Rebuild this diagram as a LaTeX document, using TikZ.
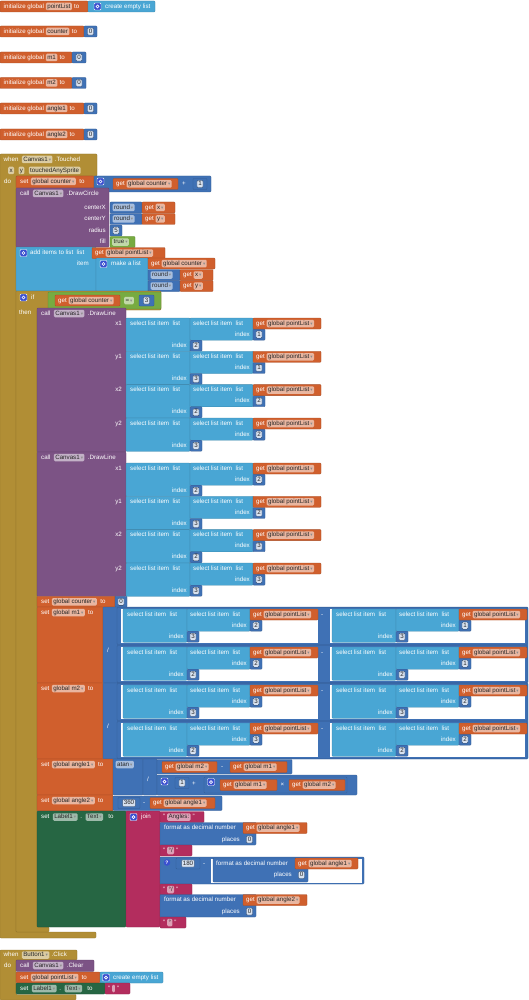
\documentclass[tikz,border=0pt]{standalone}
\usepackage{fontspec}
\setmainfont{Liberation Sans}
\newfontfamily\symf{DejaVu Sans}
\usetikzlibrary{positioning}

\definecolor{varorange}{HTML}{D05F2D}
\definecolor{evgold}{HTML}{B18E35}
\definecolor{canvpurple}{HTML}{7C5385}
\definecolor{listblue}{HTML}{49A6D4}
\definecolor{mathblue}{HTML}{3F71B5}
\definecolor{logicgreen}{HTML}{77AB41}
\definecolor{setgreen}{HTML}{266643}
\definecolor{textpink}{HTML}{B32D5E}
\definecolor{gearblue}{HTML}{3A4FD0}

\newcommand{\blkfont}{\fontsize{6.2}{7}\selectfont}
\newcommand{\dd}{\hspace{1pt}{\symf\fontsize{4.5}{4.5}\selectfont\textcolor{black!45}{▾}}}

\tikzset{
  blk/.style={fill=#1, draw=#1!80!black, line width=.3pt, rounded corners=.8pt},
  txt/.style={text=white, font=\blkfont, inner sep=0pt, anchor=west, text height=4.6pt, text depth=1.3pt},
  fld/.style={fill=white, fill opacity=.55, text opacity=1, text=black!85, rounded corners=1.2pt,
    inner xsep=1.4pt, inner ysep=.8pt, anchor=west, font=\blkfont, text height=4.6pt, text depth=1.3pt},
  num/.style={fill=white, fill opacity=.8, text opacity=1, draw=mathblue!50!black, line width=.3pt,
    text=black!85, rounded corners=1pt, inner xsep=1.3pt, inner ysep=.6pt, font=\blkfont,
    text height=4.6pt, text depth=1.3pt},
  gearb/.style={fill=gearblue, draw=white, line width=.4pt, rounded corners=1pt, minimum size=7pt,
    inner sep=0pt, path picture={\draw[white, line width=.7pt] (path picture bounding box.center) circle (1.5pt);}},
  helpb/.style={circle, fill=gearblue, text=white, font=\fontsize{5}{5}\selectfont\bfseries,
    inner sep=0pt, minimum size=6.5pt}
}

\newcommand{\gearicon}[3]{\node[gearb] (#1) at (#2+3.5,#3+3.5) {};}
\newcommand{\getv}[5]{% name, x, y top, width, variable
  \draw[blk=varorange] (#2,#3) rectangle ++(#4,11);
  \node[txt] (#1) at (#2+3,#3+5.5) {get};
  \node[fld] (#1v) at ([xshift=1.5pt]#1.east) {#5\dd};
}
\newcommand{\numblk}[5]{% name, x, y top, width, value
  \draw[blk=mathblue] (#2,#3) rectangle ++(#4,11);
  \node[num] (#1) at (#2+#4/2,#3+5.5) {#5};
}
\newcommand{\initv}[4]{%
  \draw[blk=varorange] (0,#2) rectangle (#3,#2+11);
  \node[txt] (#1) at (3.5,#2+5.5) {initialize global};
  \node[fld] (#1v) at ([xshift=1.5pt]#1.east) {#4};
  \node[txt] (#1t) at ([xshift=2pt]#1v.east) {to};
}
\newcommand{\setv}[6]{% name, x, y top, x2, y2, variable
  \draw[blk=varorange] (#2,#3) rectangle (#4,#5);
  \node[txt] (#1) at (#2+4,#3+5.5) {set};
  \node[fld] (#1v) at ([xshift=2pt]#1.east) {#6\dd};
  \node[txt] (#1t) at ([xshift=3pt]#1v.east) {to};
}
\newcommand{\callc}[6]{% name, x, y top, x2, y2, method
  \draw[blk=canvpurple] (#2,#3) rectangle (#4,#5);
  \node[txt] (#1) at (#2+4,#3+5.5) {call};
  \node[fld] (#1v) at ([xshift=3pt]#1.east) {Canvas1\dd};
  \node[txt] (#1m) at ([xshift=3pt]#1v.east) {#6};
}
\newcommand{\roundget}[4]{% name, x, y top, variable
  \draw[blk=mathblue] (#2,#3) rectangle ++(32,11);
  \node[fld] (#1) at (#2+2.5,#3+5.5) {round\dd};
  \getv{#1g}{#2+32}{#3}{33}{#4}
}
\newcommand{\selitem}[5]{% name, x, y top, inner index, outer index
  \draw[blk=listblue] (#2,#3) rectangle ++(64,33.3);
  \draw[blk=listblue] (#2+64,#3) rectangle ++(63,22.2);
  \node[txt] (#1a) at (#2+4,#3+5.5) {select list item\ \ list};
  \node[txt,anchor=east] (#1b) at (#2+61,#3+27.7) {index};
  \numblk{#1c}{#2+64}{#3+22.2}{12}{#5}
  \node[txt] (#1d) at (#2+67,#3+5.5) {select list item\ \ list};
  \node[txt,anchor=east] (#1e) at (#2+124,#3+16.6) {index};
  \numblk{#1f}{#2+127}{#3+11.1}{12}{#4}
  \getv{#1g}{#2+127}{#3}{68}{global pointList}
}
\newcommand{\subsel}[6]{% name, y top, indices of left and right item
  \draw[blk=mathblue] (117,#2) rectangle (527,#2+37);
  \fill[white] (121,#2+1) rectangle (318,#2+35.5);
  \fill[white] (330,#2+1) rectangle (525,#2+35.5);
  \node[txt] (#1m) at (321,#2+7) {-};
  \selitem{#1a}{123}{#2+1.5}{#3}{#4}
  \selitem{#1b}{332}{#2+1.5}{#5}{#6}
}
\newcommand{\strb}[5]{% name, x, y top, width, text
  \draw[blk=textpink] (#2,#3) rectangle ++(#4,11);
  \node[txt] (#1) at (#2+3,#3+5.5) {"};
  \node[fld] (#1f) at ([xshift=1.5pt]#1.east) {#5};
  \node[txt] (#1q) at ([xshift=1.5pt]#1f.east) {"};
}

\begin{document}
\begin{tikzpicture}[x=1pt,y=-1pt]
\useasboundingbox (0,0) rectangle (528,1000);

% globals
\initv{ipl}{1}{88}{pointList}
\draw[blk=listblue] (88,1) rectangle (155,12);
\gearicon{iplg}{94}{3}
\node[txt] (iplc) at (105,6.5) {create empty list};
\initv{icn}{26}{84}{counter}
\numblk{icnn}{84}{26}{13}{0}
\initv{im1}{52}{72}{m1}
\numblk{im1n}{72}{52}{14}{0}
\initv{im2}{77.5}{72}{m2}
\numblk{im2n}{72}{77.5}{14}{0}
\initv{ia1}{103}{84}{angle1}
\numblk{ia1n}{84}{103}{13}{0}
\initv{ia2}{129}{84}{angle2}
\numblk{ia2n}{84}{129}{13}{0}

% when Canvas1.Touched
\draw[blk=evgold] (0,154) -- (97,154) -- (97,176) -- (16,176) -- (16,932) -- (96,932) -- (96,938) -- (0,938) -- cycle;
\node[txt] (tw) at (3.5,159.5) {when};
\node[fld] (tc) at ([xshift=3pt]tw.east) {Canvas1\dd};
\node[txt] (tt) at ([xshift=2pt]tc.east) {.Touched};
\node[fld] (tx) at (8,170.5) {x};
\node[fld] (ty) at ([xshift=4pt]tx.east) {y};
\node[fld] (ts) at ([xshift=4pt]ty.east) {touchedAnySprite};
\node[txt] (tdo) at (4,181.5) {do};

\setv{sc}{16}{176}{94}{188}{global counter}
\draw[blk=mathblue] (94,176) rectangle (211,192);
\gearicon{scg}{97}{178}
\getv{scget}{113}{178.5}{65}{global counter}
\node[txt] (scp) at (182,184) {+};
\numblk{sc1}{193}{178.5}{14}{1}

\callc{dc}{16}{188}{109}{247}{.DrawCircle}
\node[txt,anchor=east] (dcx) at (106,207.5) {centerX};
\node[txt,anchor=east] (dcy) at (106,219) {centerY};
\node[txt,anchor=east] (dcr) at (106,230.5) {radius};
\node[txt,anchor=east] (dcf) at (106,242) {fill};
\roundget{dcrx}{110}{202}{x}
\roundget{dcry}{110}{213.5}{y}
\numblk{dcrad}{110}{225}{12}{5}
\draw[blk=logicgreen] (110,236.5) rectangle (135,247.5);
\node[fld] (dcfl) at (112,242) {true\dd};

\draw[blk=listblue] (16,247) rectangle (96,291);
\gearicon{aig}{20}{249.5}
\node[txt] (ai) at (30,253) {add items to list\ \ list};
\getv{aiget}{92}{247.5}{73}{global pointList}
\node[txt,anchor=east] (aiit) at (89,263.5) {item};
\draw[blk=listblue] (96,258) rectangle (148,291);
\gearicon{mlg}{100}{260.5}
\node[txt] (ml) at (111,263.5) {make a list};
\getv{mlget}{148}{258}{67}{global counter}
\roundget{mlrx}{148}{269.5}{x}
\roundget{mlry}{148}{280.5}{y}

% if counter = 3
\draw[blk=evgold] (16,291) -- (161,291) -- (161,310) -- (37,310) -- (37,927) -- (49,927) -- (49,932) -- (16,932) -- cycle;
\gearicon{ifg}{20}{294}
\node[txt] (if) at (31,297.5) {if};
\node[txt] (then) at (19,312.5) {then};
\draw[blk=logicgreen] (48,292) rectangle (161,309);
\getv{ifget}{55}{295}{65}{global counter}
\node[fld] (ifeq) at (124,300.5) {=\dd};
\numblk{if3}{139}{295}{15}{3}

\callc{dla}{37}{308}{126}{452}{.DrawLine}
\foreach \lab/\yy/\ii/\oo [count=\k] in {x1/318/1/2, y1/351.3/1/3, x2/384.6/2/2, y2/418/2/3} {
  \node[txt,anchor=east] (dlal\k) at (122,\yy+5.5) {\lab};
  \selitem{dlas\k}{126}{\yy}{\ii}{\oo}
}
\callc{dlb}{37}{452}{126}{596.3}{.DrawLine}
\foreach \lab/\yy/\ii/\oo [count=\k] in {x1/463/2/2, y1/496.3/2/3, x2/529.6/3/2, y2/563/3/3} {
  \node[txt,anchor=east] (dlbl\k) at (122,\yy+5.5) {\lab};
  \selitem{dlbs\k}{126}{\yy}{\ii}{\oo}
}

\setv{sz}{37}{596.3}{115}{607}{global counter}
\numblk{sz0}{115}{596.3}{12}{0}

% slopes
\setv{sm1}{37}{607}{103}{683}{global m1}
\draw[blk=mathblue] (103,607) rectangle (528,683);
\node[txt] (sm1d) at (107,651) {/};
\subsel{m1n}{607.5}{2}{3}{1}{3}
\subsel{m1q}{645.5}{2}{2}{1}{2}

\setv{sm2}{37}{683}{103}{759}{global m2}
\draw[blk=mathblue] (103,683) rectangle (528,759);
\node[txt] (sm2d) at (107,727) {/};
\subsel{m2n}{683.5}{3}{3}{2}{3}
\subsel{m2q}{721.5}{3}{2}{2}{2}

% angles
\setv{sa1}{37}{759}{113}{795}{global angle1}
\draw[blk=mathblue] (113,759) rectangle (143,795);
\node[fld] (atn) at (115.5,764.5) {atan\dd};
\draw[blk=mathblue] (143,759) rectangle (157,795);
\node[txt] (a1d) at (147,780) {/};
\draw[blk=mathblue] (157,759.5) rectangle (292,774);
\getv{a1m2}{162}{761.5}{55}{global m2}
\node[txt] (a1mi) at (221,767) {-};
\getv{a1m1}{230}{761.5}{57}{global m1}
\draw[blk=mathblue] (157,775) rectangle (357,795);
\gearicon{a1g}{161}{778}
\numblk{a1one}{175}{777.5}{14}{1}
\node[txt] (a1pl) at (192,784) {+};
\draw[blk=mathblue] (204,777) rectangle (347,793);
\gearicon{a1g2}{207.5}{778.5}
\getv{a1gm1}{220}{779.5}{57}{global m1}
\node[txt] (a1x) at (280.5,785) {×};
\getv{a1gm2}{289}{779.5}{56}{global m2}

\setv{sa2}{37}{795}{113}{811}{global angle2}
\draw[blk=mathblue] (113,796) rectangle (222,810.5);
\numblk{a2n}{118}{797.5}{22}{360}
\node[txt] (a2mi) at (143,803) {-};
\getv{a2g}{150}{797.5}{65}{global angle1}

% label text
\draw[blk=setgreen] (37,811) rectangle (126,927);
\node[txt] (ls) at (41,817) {set};
\node[fld] (lsl) at ([xshift=3pt]ls.east) {Label1\dd};
\node[txt] (lsd) at ([xshift=2.5pt]lsl.east) {.};
\node[fld] (lst) at ([xshift=3pt]lsd.east) {Text\dd};
\node[txt] (lsto) at ([xshift=5pt]lst.east) {to};
\draw[blk=textpink] (126,811) rectangle (160,927);
\gearicon{jg}{130}{813.5}
\node[txt] (jn) at (141,817) {join};

\strb{s1}{160}{811.5}{44}{Angles:}
\draw[blk=mathblue] (160,822.5) rectangle (256,845);
\node[txt] (f1) at (164,828) {format as decimal number};
\getv{f1g}{243}{822.5}{64}{global angle1}
\node[txt,anchor=east] (f1p) at (240,839.5) {places};
\node[num] (f1n) at (249.5,839.5) {0};
\strb{s2}{160}{845}{32}{°/}
\draw[blk=mathblue] (160,857) rectangle (364,884);
\node[helpb] (hq) at (167,862.5) {?};
\numblk{s180}{176}{858}{24}{180}
\node[txt] (smi) at (203,863.5) {-};
\fill[white] (211,858.5) rectangle (362,882.5);
\draw[blk=mathblue] (213,858) rectangle (308,882);
\node[txt] (f2) at (216,863.5) {format as decimal number};
\getv{f2g}{295}{858}{63}{global angle1}
\node[txt,anchor=east] (f2p) at (292,875) {places};
\node[num] (f2n) at (301.5,875) {0};
\strb{s3}{160}{884}{32}{°/}
\draw[blk=mathblue] (160,894.5) rectangle (256,917);
\node[txt] (f3) at (164,900) {format as decimal number};
\getv{f3g}{243}{894.5}{64}{global angle2}
\node[txt,anchor=east] (f3p) at (240,911.5) {places};
\node[num] (f3n) at (249.5,911.5) {0};
\strb{s4}{160}{917}{26}{°}

% when Button1.Click
\draw[blk=evgold] (0,950) -- (77,950) -- (77,960) -- (16,960) -- (16,994.5) -- (76,994.5) -- (76,1000) -- (0,1000) -- cycle;
\node[txt] (bw) at (3.5,955) {when};
\node[fld] (bb) at ([xshift=3pt]bw.east) {Button1\dd};
\node[txt] (bc) at ([xshift=2pt]bb.east) {.Click};
\node[txt] (bdo) at (4,966) {do};
\callc{bcl}{16}{960}{94}{971.5}{.Clear}
\setv{bsp}{16}{972}{100}{983}{global pointList}
\draw[blk=listblue] (100,972) rectangle (163,983);
\gearicon{bspg}{102.5}{974}
\node[txt] (bspc) at (113,977.5) {create empty list};
\draw[blk=setgreen] (16,983) rectangle (105,994);
\node[txt] (bls) at (20,988.5) {set};
\node[fld] (bll) at ([xshift=3pt]bls.east) {Label1\dd};
\node[txt] (bld) at ([xshift=2.5pt]bll.east) {.};
\node[fld] (blt) at ([xshift=3pt]bld.east) {Text\dd};
\node[txt] (blto) at ([xshift=5pt]blt.east) {to};
\strb{bstr}{105}{983}{25}{\hspace{3pt}}
\end{tikzpicture}
\end{document}
